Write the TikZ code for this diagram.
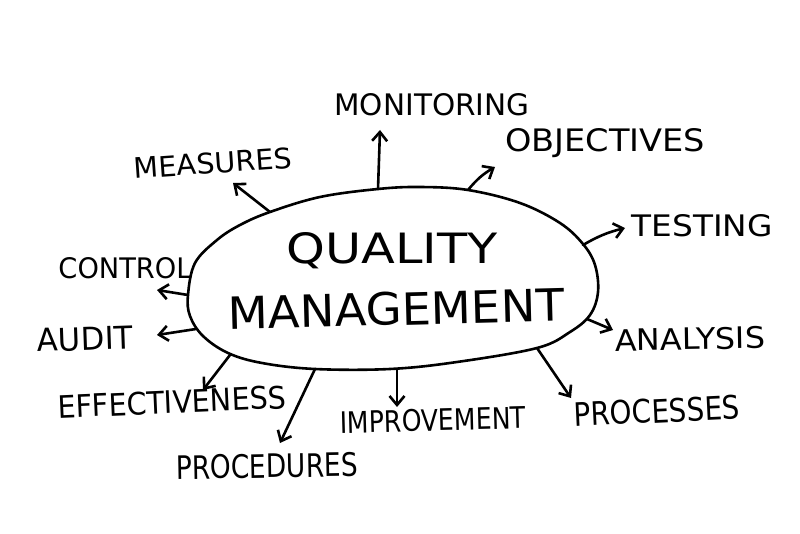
\documentclass[tikz,border=0pt]{standalone}
\usepackage{fontspec}
\usepackage{graphicx}
\newfontfamily\handfont{DejaVu Sans}
\usetikzlibrary{arrows.meta}
% text squeezed to the size it has in the sketch
\newcommand{\hw}[3]{\resizebox{#1pt}{#2pt}{\fontsize{30}{30}\selectfont\handfont #3}}

\begin{document}
\begin{tikzpicture}[x=1pt,y=-1pt]
        \useasboundingbox (0,0) rectangle (800,534);

        % the blob round the title
        \draw[line width=2.6pt, line join=round] plot[smooth cycle, tension=0.6] coordinates {
            (188,295) (195,263) (217,240) (240,225) (270,212) (320,197)
            (378,189) (420,187) (468,190) (520,203) (560,223) (583,244)
            (595,265) (598,292) (590,315) (570,332) (537,348) (457,362)
            (390,369) (315,369) (262,363) (228,353) (203,336) (190,316)};

        \begin{scope}[every node/.style = {inner sep=0pt}]
            \node (qual) at (392,251)   {\hw{211}{31}{QUALITY}};
            \node (mgmt) at (396,309) [rotate=1.5] {\hw{336}{33}{MANAGEMENT}};

            \node (mon)  at (432,105)   {\hw{195}{22}{MONITORING}};
            \node (obj)  at (605,143)   {\hw{200}{23}{OBJECTIVES}};
            \node (meas) at (213,163) [rotate=4] {\hw{158}{21}{MEASURES}};
            \node (test) at (702,226)   {\hw{141}{22}{TESTING}};
            \node (ctrl) at (125,268)   {\hw{133}{21}{CONTROL}};
            \node (anl)  at (690,339) [rotate=1] {\hw{150}{22}{ANALYSIS}};
            \node (aud)  at (85,339) [rotate=2]  {\hw{95}{23}{AUDIT}};
            \node (eff)  at (172,402) [rotate=2.5] {\hw{229}{23}{EFFECTIVENESS}};
            \node (impr) at (433,420) [rotate=1.5] {\hw{186}{22}{IMPROVEMENT}};
            \node (prcs) at (657,411) [rotate=2.7] {\hw{166}{24}{PROCESSES}};
            \node (proc) at (267,466) [rotate=1] {\hw{182}{24}{PROCEDURES}};
        \end{scope}

        % where the arrows leave the blob and where they point
        \coordinate (sMon)  at (378,189);  \coordinate (tMon)  at (380,130);
        \coordinate (sObj)  at (468,190);  \coordinate (tObj)  at (495,167);
        \coordinate (sMeas) at (270,212);  \coordinate (tMeas) at (233,183);
        \coordinate (sTest) at (583,245);  \coordinate (tTest) at (625,228);
        \coordinate (sCtrl) at (188,295);  \coordinate (tCtrl) at (157,290);
        \coordinate (sAud)  at (196,329);  \coordinate (tAud)  at (157,335);
        \coordinate (sEff)  at (230,355);  \coordinate (tEff)  at (203,390);
        \coordinate (sProc) at (315,369);  \coordinate (tProc) at (280,443);
        \coordinate (sImpr) at (397,369);  \coordinate (tImpr) at (397,407);
        \coordinate (sPrcs) at (537,348);  \coordinate (tPrcs) at (571,398);
        \coordinate (sAnl)  at (587,319);  \coordinate (tAnl)  at (613,330);

        \begin{scope}[>={Straight Barb[length=9pt,width=15pt,line width=2.6pt]},
                        every edge/.style={draw,line width=2.6pt,line cap=round}]
            \path [->] (sMon) edge (tMon);
            \path [->] (sObj) edge[bend left=10] (tObj);
            \path [->] (sMeas) edge (tMeas);
            \path [->] (sTest) edge[bend left=8] (tTest);
            \path [->] (sCtrl) edge (tCtrl);
            \path [->] (sAud) edge (tAud);
            \path [->] (sEff) edge (tEff);
            \path [->] (sProc) edge (tProc);
            \path [->] (sImpr) edge (tImpr);
            \path [->] (sPrcs) edge (tPrcs);
            \path [->] (sAnl) edge (tAnl);
        \end{scope}
    \end{tikzpicture}
\end{document}
